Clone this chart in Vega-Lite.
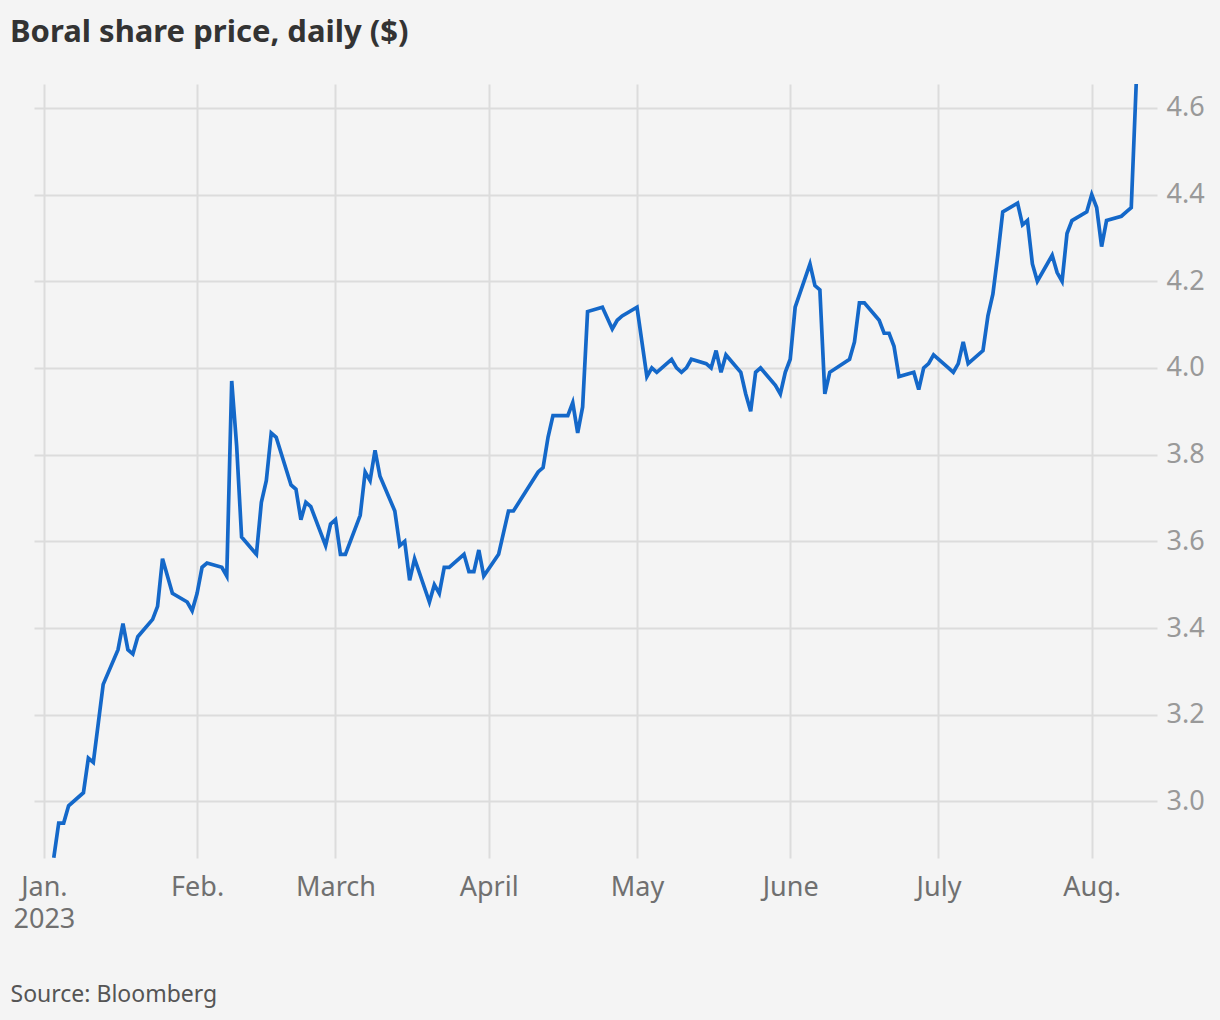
{
  "$schema": "https://vega.github.io/schema/vega-lite/v6.json",
  "width": 1123,
  "height": 774,
  "autosize": {"type": "none"},
  "padding": {"left": 34, "top": 84, "right": 63, "bottom": 162},
  "background": "#f4f4f4",
  "config": {"view": {"stroke": null}, "font": "Noto Sans"},
  "title": {
    "text": "Boral share price, daily ($)",
    "anchor": "start",
    "frame": "group",
    "dx": -24,
    "offset": 28,
    "fontSize": 31,
    "fontWeight": "bold",
    "color": "#333333",
    "font": "Noto Sans"
  },
  "data": {
    "values": [
      {"date": "2023/01/03", "price": 2.87},
      {"date": "2023/01/04", "price": 2.95},
      {"date": "2023/01/05", "price": 2.95},
      {"date": "2023/01/06", "price": 2.99},
      {"date": "2023/01/09", "price": 3.02},
      {"date": "2023/01/10", "price": 3.10},
      {"date": "2023/01/11", "price": 3.09},
      {"date": "2023/01/12", "price": 3.18},
      {"date": "2023/01/13", "price": 3.27},
      {"date": "2023/01/16", "price": 3.35},
      {"date": "2023/01/17", "price": 3.41},
      {"date": "2023/01/18", "price": 3.35},
      {"date": "2023/01/19", "price": 3.34},
      {"date": "2023/01/20", "price": 3.38},
      {"date": "2023/01/23", "price": 3.42},
      {"date": "2023/01/24", "price": 3.45},
      {"date": "2023/01/25", "price": 3.56},
      {"date": "2023/01/27", "price": 3.48},
      {"date": "2023/01/30", "price": 3.46},
      {"date": "2023/01/31", "price": 3.44},
      {"date": "2023/02/01", "price": 3.48},
      {"date": "2023/02/02", "price": 3.54},
      {"date": "2023/02/03", "price": 3.55},
      {"date": "2023/02/06", "price": 3.54},
      {"date": "2023/02/07", "price": 3.52},
      {"date": "2023/02/08", "price": 3.97},
      {"date": "2023/02/09", "price": 3.82},
      {"date": "2023/02/10", "price": 3.61},
      {"date": "2023/02/13", "price": 3.57},
      {"date": "2023/02/14", "price": 3.69},
      {"date": "2023/02/15", "price": 3.74},
      {"date": "2023/02/16", "price": 3.85},
      {"date": "2023/02/17", "price": 3.84},
      {"date": "2023/02/20", "price": 3.73},
      {"date": "2023/02/21", "price": 3.72},
      {"date": "2023/02/22", "price": 3.65},
      {"date": "2023/02/23", "price": 3.69},
      {"date": "2023/02/24", "price": 3.68},
      {"date": "2023/02/27", "price": 3.59},
      {"date": "2023/02/28", "price": 3.64},
      {"date": "2023/03/01", "price": 3.65},
      {"date": "2023/03/02", "price": 3.57},
      {"date": "2023/03/03", "price": 3.57},
      {"date": "2023/03/06", "price": 3.66},
      {"date": "2023/03/07", "price": 3.76},
      {"date": "2023/03/08", "price": 3.74},
      {"date": "2023/03/09", "price": 3.81},
      {"date": "2023/03/10", "price": 3.75},
      {"date": "2023/03/13", "price": 3.67},
      {"date": "2023/03/14", "price": 3.59},
      {"date": "2023/03/15", "price": 3.60},
      {"date": "2023/03/16", "price": 3.51},
      {"date": "2023/03/17", "price": 3.56},
      {"date": "2023/03/20", "price": 3.46},
      {"date": "2023/03/21", "price": 3.50},
      {"date": "2023/03/22", "price": 3.48},
      {"date": "2023/03/23", "price": 3.54},
      {"date": "2023/03/24", "price": 3.54},
      {"date": "2023/03/27", "price": 3.57},
      {"date": "2023/03/28", "price": 3.53},
      {"date": "2023/03/29", "price": 3.53},
      {"date": "2023/03/30", "price": 3.58},
      {"date": "2023/03/31", "price": 3.52},
      {"date": "2023/04/03", "price": 3.57},
      {"date": "2023/04/04", "price": 3.62},
      {"date": "2023/04/05", "price": 3.67},
      {"date": "2023/04/06", "price": 3.67},
      {"date": "2023/04/11", "price": 3.76},
      {"date": "2023/04/12", "price": 3.77},
      {"date": "2023/04/13", "price": 3.84},
      {"date": "2023/04/14", "price": 3.89},
      {"date": "2023/04/17", "price": 3.89},
      {"date": "2023/04/18", "price": 3.92},
      {"date": "2023/04/19", "price": 3.85},
      {"date": "2023/04/20", "price": 3.91},
      {"date": "2023/04/21", "price": 4.13},
      {"date": "2023/04/24", "price": 4.14},
      {"date": "2023/04/26", "price": 4.09},
      {"date": "2023/04/27", "price": 4.11},
      {"date": "2023/04/28", "price": 4.12},
      {"date": "2023/05/01", "price": 4.14},
      {"date": "2023/05/02", "price": 4.06},
      {"date": "2023/05/03", "price": 3.98},
      {"date": "2023/05/04", "price": 4.00},
      {"date": "2023/05/05", "price": 3.99},
      {"date": "2023/05/08", "price": 4.02},
      {"date": "2023/05/09", "price": 4.00},
      {"date": "2023/05/10", "price": 3.99},
      {"date": "2023/05/11", "price": 4.00},
      {"date": "2023/05/12", "price": 4.02},
      {"date": "2023/05/15", "price": 4.01},
      {"date": "2023/05/16", "price": 4.00},
      {"date": "2023/05/17", "price": 4.04},
      {"date": "2023/05/18", "price": 3.99},
      {"date": "2023/05/19", "price": 4.03},
      {"date": "2023/05/22", "price": 3.99},
      {"date": "2023/05/23", "price": 3.94},
      {"date": "2023/05/24", "price": 3.90},
      {"date": "2023/05/25", "price": 3.99},
      {"date": "2023/05/26", "price": 4.00},
      {"date": "2023/05/29", "price": 3.96},
      {"date": "2023/05/30", "price": 3.94},
      {"date": "2023/05/31", "price": 3.99},
      {"date": "2023/06/01", "price": 4.02},
      {"date": "2023/06/02", "price": 4.14},
      {"date": "2023/06/05", "price": 4.24},
      {"date": "2023/06/06", "price": 4.19},
      {"date": "2023/06/07", "price": 4.18},
      {"date": "2023/06/08", "price": 3.94},
      {"date": "2023/06/09", "price": 3.99},
      {"date": "2023/06/13", "price": 4.02},
      {"date": "2023/06/14", "price": 4.06},
      {"date": "2023/06/15", "price": 4.15},
      {"date": "2023/06/16", "price": 4.15},
      {"date": "2023/06/19", "price": 4.11},
      {"date": "2023/06/20", "price": 4.08},
      {"date": "2023/06/21", "price": 4.08},
      {"date": "2023/06/22", "price": 4.05},
      {"date": "2023/06/23", "price": 3.98},
      {"date": "2023/06/26", "price": 3.99},
      {"date": "2023/06/27", "price": 3.95},
      {"date": "2023/06/28", "price": 4.00},
      {"date": "2023/06/29", "price": 4.01},
      {"date": "2023/06/30", "price": 4.03},
      {"date": "2023/07/03", "price": 4.00},
      {"date": "2023/07/04", "price": 3.99},
      {"date": "2023/07/05", "price": 4.01},
      {"date": "2023/07/06", "price": 4.06},
      {"date": "2023/07/07", "price": 4.01},
      {"date": "2023/07/10", "price": 4.04},
      {"date": "2023/07/11", "price": 4.12},
      {"date": "2023/07/12", "price": 4.17},
      {"date": "2023/07/13", "price": 4.26},
      {"date": "2023/07/14", "price": 4.36},
      {"date": "2023/07/17", "price": 4.38},
      {"date": "2023/07/18", "price": 4.33},
      {"date": "2023/07/19", "price": 4.34},
      {"date": "2023/07/20", "price": 4.24},
      {"date": "2023/07/21", "price": 4.20},
      {"date": "2023/07/24", "price": 4.26},
      {"date": "2023/07/25", "price": 4.22},
      {"date": "2023/07/26", "price": 4.20},
      {"date": "2023/07/27", "price": 4.31},
      {"date": "2023/07/28", "price": 4.34},
      {"date": "2023/07/31", "price": 4.36},
      {"date": "2023/08/01", "price": 4.40},
      {"date": "2023/08/02", "price": 4.37},
      {"date": "2023/08/03", "price": 4.28},
      {"date": "2023/08/04", "price": 4.34},
      {"date": "2023/08/07", "price": 4.35},
      {"date": "2023/08/08", "price": 4.36},
      {"date": "2023/08/09", "price": 4.37},
      {"date": "2023/08/10", "price": 4.655}
    ]
  },
  "mark": {"type": "line", "color": "#1468c9", "strokeWidth": 3.7, "clip": false},
  "encoding": {
    "x": {
      "field": "date",
      "type": "temporal",
      "scale": {
        "domain": [
          {"year": 2022, "month": 12, "date": 30},
          {"year": 2023, "month": 8, "date": 14, "hours": 5}
        ]
      },
      "axis": {
        "tickCount": {"interval": "month", "step": 1},
        "labelExpr": "month(datum.value) == 0 ? ['Jan.', '2023'] : ['Jan.','Feb.','March','April','May','June','July','Aug.','Sept.','Oct.','Nov.','Dec.'][month(datum.value)]",
        "labelFontSize": 27,
        "labelColor": "#707070",
        "labelFont": "Noto Sans",
        "labelPadding": 16,
        "labelLineHeight": 32,
        "labelAlign": "center",
        "labelBaseline": "top",
        "labelOverlap": false,
        "labelFlush": false,
        "grid": true,
        "gridColor": "#dcdcdc",
        "gridWidth": 2,
        "domain": false,
        "ticks": false,
        "title": "Source: Bloomberg",
        "titleAnchor": "start",
        "titleAlign": "left",
        "titleBaseline": "alphabetic",
        "titleX": -24,
        "titleY": 143,
        "titleFontSize": 23,
        "titleFontWeight": "normal",
        "titleColor": "#555555",
        "titleFont": "Noto Sans"
      }
    },
    "y": {
      "field": "price",
      "type": "quantitative",
      "scale": {"domain": [2.8695, 4.655], "nice": false, "zero": false},
      "axis": {
        "orient": "right",
        "values": [3.0, 3.2, 3.4, 3.6, 3.8, 4.0, 4.2, 4.4, 4.6],
        "format": ".1f",
        "labelFontSize": 27,
        "labelColor": "#999999",
        "labelFont": "Noto Sans",
        "labelPadding": 9,
        "grid": true,
        "gridColor": "#dcdcdc",
        "gridWidth": 2,
        "domain": false,
        "ticks": false,
        "title": null
      }
    }
  }
}
